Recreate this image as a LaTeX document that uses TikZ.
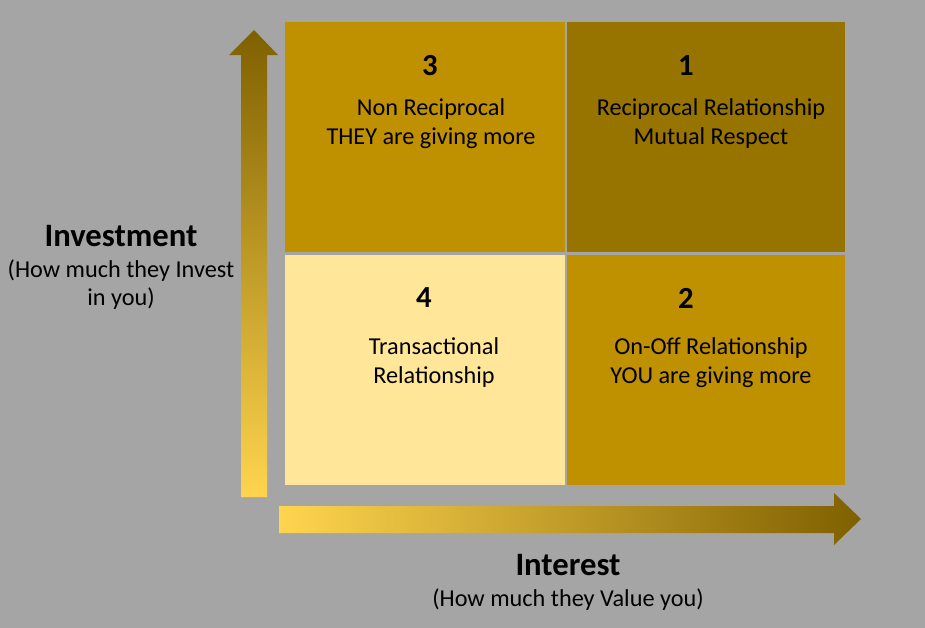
\documentclass[tikz,border=0pt]{standalone}
\usepackage{fontspec}
\setmainfont{Carlito}
\definecolor{bg}{HTML}{A5A5A5}
\definecolor{goldA}{HTML}{BF9000}
\definecolor{goldB}{HTML}{977300}
\definecolor{goldL}{HTML}{FFE699}
\definecolor{arrLight}{HTML}{FFD54F}
\definecolor{arrDark}{HTML}{7F6000}
\tikzset{
  quad/.style={draw=none, minimum width=210pt, minimum height=172.5pt, inner sep=0pt, anchor=north west},
  num/.style={font=\fontsize{23}{26}\selectfont\bfseries, inner sep=0pt},
  txt/.style={font=\fontsize{18.2}{21.75}\selectfont, align=center, inner sep=0pt},
  head/.style={font=\fontsize{24.5}{28}\selectfont\bfseries, inner sep=0pt},
  sub/.style={font=\fontsize{18.2}{21}\selectfont, align=center, inner sep=0pt}
}
\begin{document}
\begin{tikzpicture}[x=0.75pt,y=-0.75pt]
\fill[bg] (0,0) rectangle (925,628);
\useasboundingbox (0,0) rectangle (925,628);
% quadrants
\node[quad, fill=goldA] (q3) at (285,22) {};
\node[quad, fill=goldB, minimum width=208.5pt] (q1) at (567,22) {};
\node[quad, fill=goldL, minimum height=172.5pt] (q4) at (285,255) {};
\node[quad, fill=goldA, minimum width=208.5pt] (q2) at (567,255) {};
% texts
\node[num] (n3) at (430,66) {3};
\node[txt] (t3) at (431,124) {Non Reciprocal\\THEY are giving more};
\node[num] (n1) at (686,66) {1};
\node[txt] (t1) at (711,124) {Reciprocal Relationship\\Mutual Respect};
\node[num] (n4) at (424,298) {4};
\node[txt] (t4) at (434,363) {Transactional\\Relationship};
\node[num] (n2) at (686,298) {2};
\node[txt] (t2) at (711,363) {On-Off Relationship\\YOU are giving more};
% arrows
\shade[bottom color=arrLight, top color=arrDark]
  (241,497) -- (241,55) -- (229,55) -- (254,30) -- (278,55) -- (267,55) -- (267,497) -- cycle;
\shade[left color=arrLight, right color=arrDark]
  (279,506) -- (834,506) -- (834,493) -- (861,519) -- (834,545) -- (834,533) -- (279,533) -- cycle;
% axis labels
\node[head] (inv) at (121,236) {Investment};
\node[sub] (invs) at (121,285) {(How much they Invest\\in you)};
\node[head] (int) at (568,565) {Interest};
\node[sub] (ints) at (568,600) {(How much they Value you)};
\end{tikzpicture}
\end{document}
